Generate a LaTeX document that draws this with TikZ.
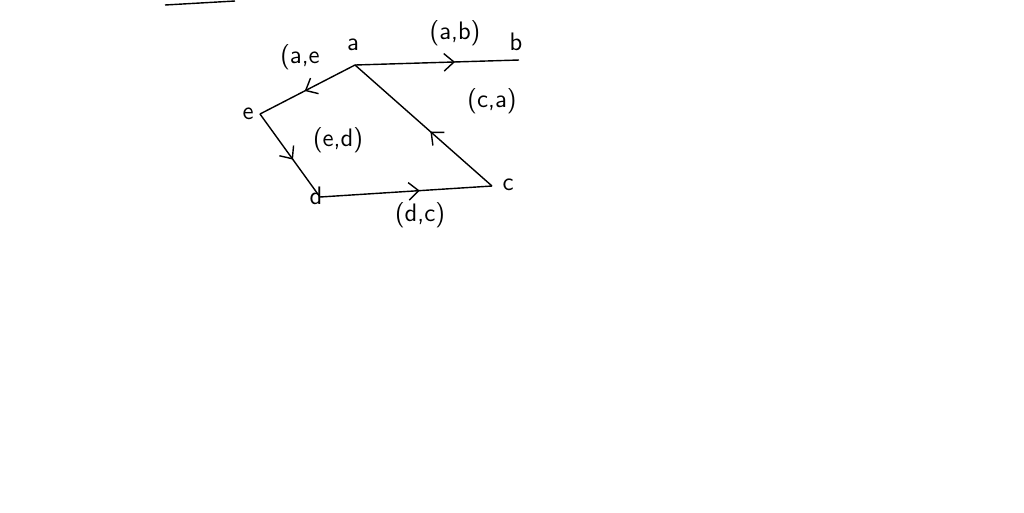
\documentclass[tikz,border=0pt]{standalone}
\usetikzlibrary{arrows.meta,decorations.markings}
\begin{document}
\begin{tikzpicture}[x=0.02cm, y=-0.02cm,
    vname/.style={font=\sffamily\Large},
    ename/.style={font=\sffamily\Large},
    edge/.style={line width=0.8pt, postaction={decorate},
      decoration={markings, mark=at position #1 with {\arrow{Straight Barb[length=2mm, width=3.5mm]}}}},
    edge/.default=0.55]
  \useasboundingbox (0,0) rectangle (1024,512);

  % vertices
  \coordinate (a) at (355,65);
  \coordinate (b) at (519,60);
  \coordinate (c) at (492,186);
  \coordinate (d) at (320,197);
  \coordinate (e) at (260,114);

  \node[vname] (la) at (353,45) {a};
  \node[vname] (lb) at (516,42) {b};
  \node[vname] (lc) at (508,185) {c};
  \node[vname] (ld) at (316,196) {d};
  \node[vname] (le) at (248,114) {e};

  % edges
  \draw[edge=0.61] (a) -- (b);
  \draw[edge=0.53] (a) -- (e);
  \draw[edge=0.55] (e) -- (d);
  \draw[edge=0.58] (d) -- (c);
  \draw[edge=0.45] (c) -- (a);

  \node[ename] (lab) at (455,33) {(a,b)};
  \node[ename] (lae) at (300,57) {(a,e};
  \node[ename] (lca) at (492,101) {(c,a)};
  \node[ename] (led) at (338,140) {(e,d)};
  \node[ename] (ldc) at (420,215) {(d,c)};

  \draw[line width=0.8pt] (165,5) -- (235,1);
\end{tikzpicture}
\end{document}
